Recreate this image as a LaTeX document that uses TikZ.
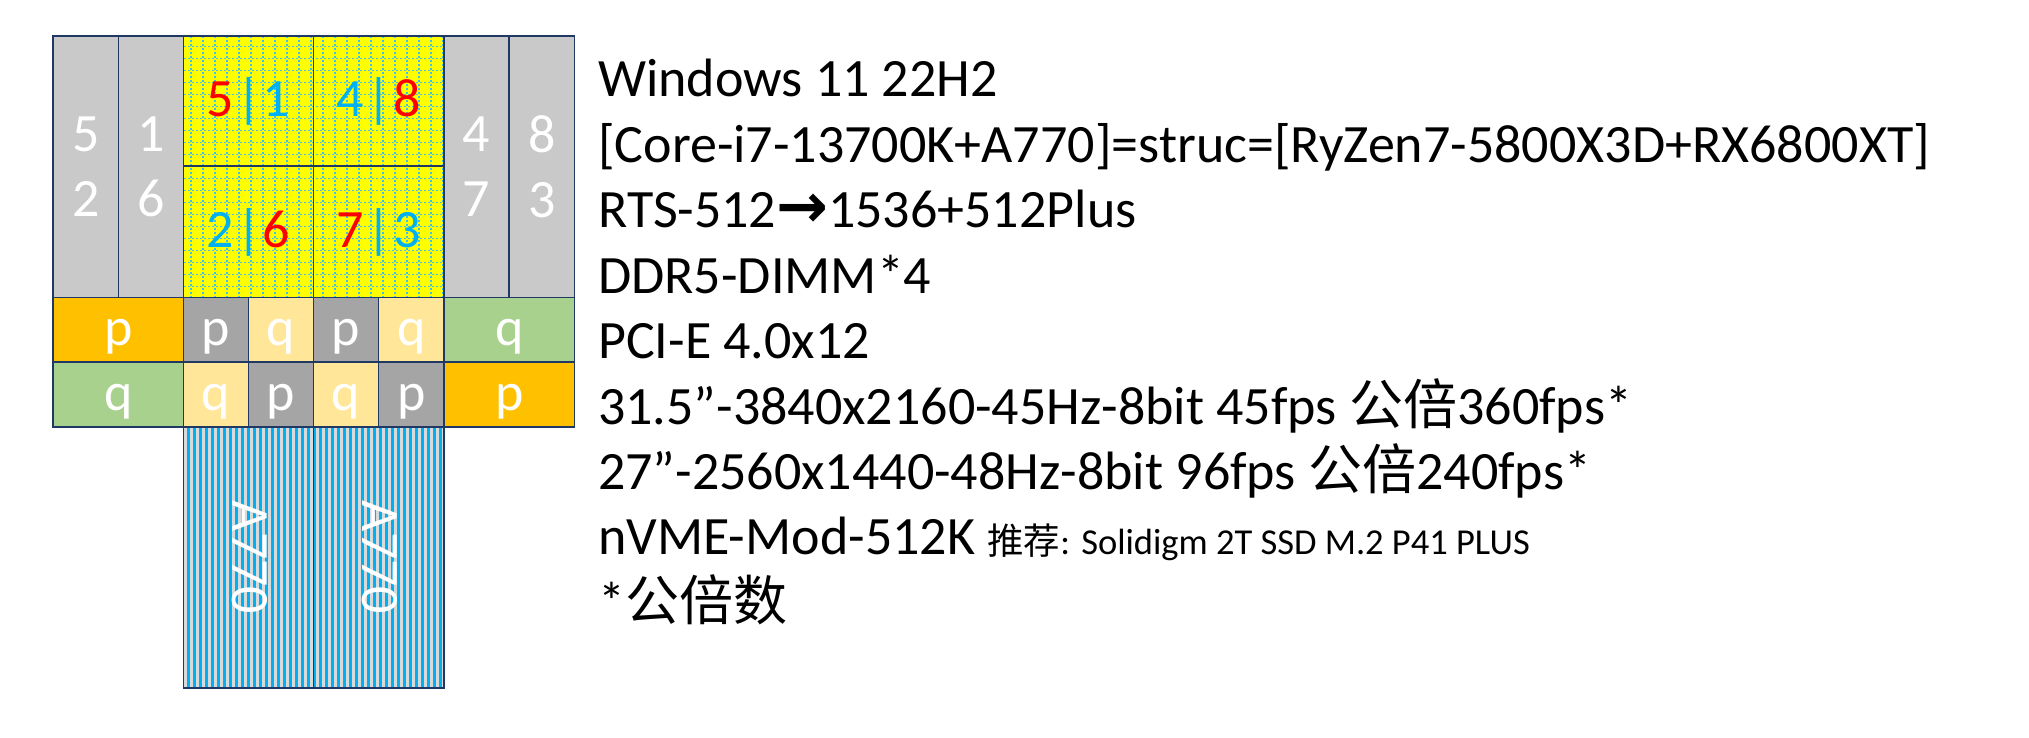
\documentclass[tikz,border=0pt]{standalone}
\usepackage{fontspec}
\setmainfont{Carlito}
\newfontfamily\cjkf{Noto Sans CJK SC}
\newfontfamily\arrowf{DejaVu Sans}
\definecolor{edgec}{HTML}{203864}
\definecolor{lgray}{HTML}{C9C9C9}
\definecolor{dgray}{HTML}{A5A5A5}
\definecolor{orng}{HTML}{FFC000}
\definecolor{grn}{HTML}{A9D18E}
\definecolor{lyel}{HTML}{FFE699}
\definecolor{yel}{HTML}{FFFF00}
\definecolor{cyanb}{HTML}{00B0F0}
\definecolor{gridc}{HTML}{3CC0F0}
\definecolor{stripg}{HTML}{D9D9D9}
\definecolor{redt}{HTML}{FF0000}
\tikzset{
  bigfont/.style={font=\fontsize{54}{65}\selectfont},
  cellbox/.style={draw=edgec, line width=1.5pt, rectangle, inner sep=0pt},
  celltext/.style={bigfont, text=white, inner sep=0pt, text height=44pt, text depth=12pt},
  coltext/.style={bigfont, text=white, inner sep=0pt, align=center},
  maintext/.style={bigfont, anchor=base west, inner sep=0pt, text=black},
  gridline/.style={gridc, line width=1.6pt, dash pattern=on 2pt off 2pt},
}
% #1 name, #2 x1, #3 y1, #4 x2, #5 y2, #6 fill
\newcommand\mkcell[6]{%
  \node[cellbox, fill=#6, minimum width={#4-#2}, minimum height={#5-#3}]
    (#1) at ({(#2+#4)/2},{(#3+#5)/2}) {};}
\newcommand\barsep{\hspace{2pt}|\hspace{2pt}}
\begin{document}
\begin{tikzpicture}[x=1pt,y=-1pt]
\useasboundingbox (0,0) rectangle (2029,738);
\fill[white] (0,0) rectangle (2029,738);

% yellow grid background
\fill[yel] (183.5,36) rectangle (444,297.5);
\begin{scope}
  \clip (183.5,36) rectangle (444,297.5);
  \foreach \i in {0,...,21} {
    \draw[gridline] ({191+12*\i},36) -- ({191+12*\i},297.5);
  }
  \foreach \j in {0,...,21} {
    \draw[gridline] (183.5,{46.5+12*\j}) -- (444,{46.5+12*\j});
  }
\end{scope}

% striped background for the A770 cards
\fill[stripg] (183.5,427) rectangle (444,688);
\begin{scope}
  \clip (183.5,427) rectangle (444,688);
  \foreach \i in {0,...,43} {
    \fill[cyanb] ({186.5+6*\i},427) rectangle ++(3.4,261);
  }
\end{scope}

% top section
\mkcell{g1}{53}{36}{118.5}{297.5}{lgray}
\mkcell{g2}{118.5}{36}{183.5}{297.5}{lgray}
\mkcell{y1}{183.5}{36}{313.5}{166}{none}
\mkcell{y2}{313.5}{36}{444}{166}{none}
\mkcell{y3}{183.5}{166}{313.5}{297.5}{none}
\mkcell{y4}{313.5}{166}{444}{297.5}{none}
\mkcell{g3}{444}{36}{509}{297.5}{lgray}
\mkcell{g4}{509}{36}{574.5}{297.5}{lgray}

\node[coltext] (g1t) at (g1) {5\\2};
\node[coltext] (g2t) at (g2) {1\\6};
\node[coltext] (g3t) at (g3) {4\\7};
\node[coltext] (g4t) at (g4) {8\\3};

\node[celltext] (y1t) at (y1) {\textcolor{redt}{5}\textcolor{cyanb}{\barsep 1}};
\node[celltext] (y2t) at (y2) {\textcolor{cyanb}{4\barsep}\textcolor{redt}{8}};
\node[celltext] (y3t) at (y3) {\textcolor{cyanb}{2\barsep}\textcolor{redt}{6}};
\node[celltext] (y4t) at (y4) {\textcolor{redt}{7}\textcolor{cyanb}{\barsep 3}};

% row 1
\mkcell{r1a}{53}{297.5}{183.5}{362}{orng}
\mkcell{r1b}{183.5}{297.5}{248.5}{362}{dgray}
\mkcell{r1c}{248.5}{297.5}{313.5}{362}{lyel}
\mkcell{r1d}{313.5}{297.5}{378.5}{362}{dgray}
\mkcell{r1e}{378.5}{297.5}{444}{362}{lyel}
\mkcell{r1f}{444}{297.5}{574.5}{362}{grn}
\node[celltext] (r1at) at (r1a) {p};
\node[celltext] (r1bt) at (r1b) {p};
\node[celltext] (r1ct) at (r1c) {q};
\node[celltext] (r1dt) at (r1d) {p};
\node[celltext] (r1et) at (r1e) {q};
\node[celltext] (r1ft) at (r1f) {q};

% row 2
\mkcell{r2a}{53}{362}{183.5}{427}{grn}
\mkcell{r2b}{183.5}{362}{248.5}{427}{lyel}
\mkcell{r2c}{248.5}{362}{313.5}{427}{dgray}
\mkcell{r2d}{313.5}{362}{378.5}{427}{lyel}
\mkcell{r2e}{378.5}{362}{444}{427}{dgray}
\mkcell{r2f}{444}{362}{574.5}{427}{orng}
\node[celltext] (r2at) at (r2a) {q};
\node[celltext] (r2bt) at (r2b) {q};
\node[celltext] (r2ct) at (r2c) {p};
\node[celltext] (r2dt) at (r2d) {q};
\node[celltext] (r2et) at (r2e) {p};
\node[celltext] (r2ft) at (r2f) {p};

% A770 cards
\mkcell{a1}{183.5}{427}{313.5}{688}{none}
\mkcell{a2}{313.5}{427}{444}{688}{none}
\node[celltext, rotate=-90] (a1t) at (a1) {A770};
\node[celltext, rotate=-90] (a2t) at (a2) {A770};

% text column
\node[maintext] (l1) at (598,97) {Windows 11 22H2};
\node[maintext] (l2) at (598,162.4) {[Core-i7-13700K+A770]=struc=[RyZen7-5800X3D+RX6800XT]};
\node[maintext] (l3) at (598,227.8) {RTS-512{\arrowf\bfseries\fontsize{62}{65}\selectfont →}1536+512Plus};
\node[maintext] (l4) at (598,293.2) {DDR5-DIMM*4};
\node[maintext] (l5) at (598,358.6) {PCI-E 4.0x12};
\node[maintext] (l6) at (598,424) {31.5”-3840x2160-45Hz-8bit 45fps {\cjkf 公倍}360fps*};
\node[maintext] (l7) at (598,489.4) {27”-2560x1440-48Hz-8bit 96fps {\cjkf 公倍}240fps*};
\node[maintext] (l8) at (598,554.8) {nVME-Mod-512K {\fontsize{36.5}{40}\selectfont{\cjkf 推荐}: Solidigm 2T SSD M.2 P41 PLUS}};
\node[maintext] (l9) at (598,620.2) {*{\cjkf 公倍数}};
\end{tikzpicture}
\end{document}
